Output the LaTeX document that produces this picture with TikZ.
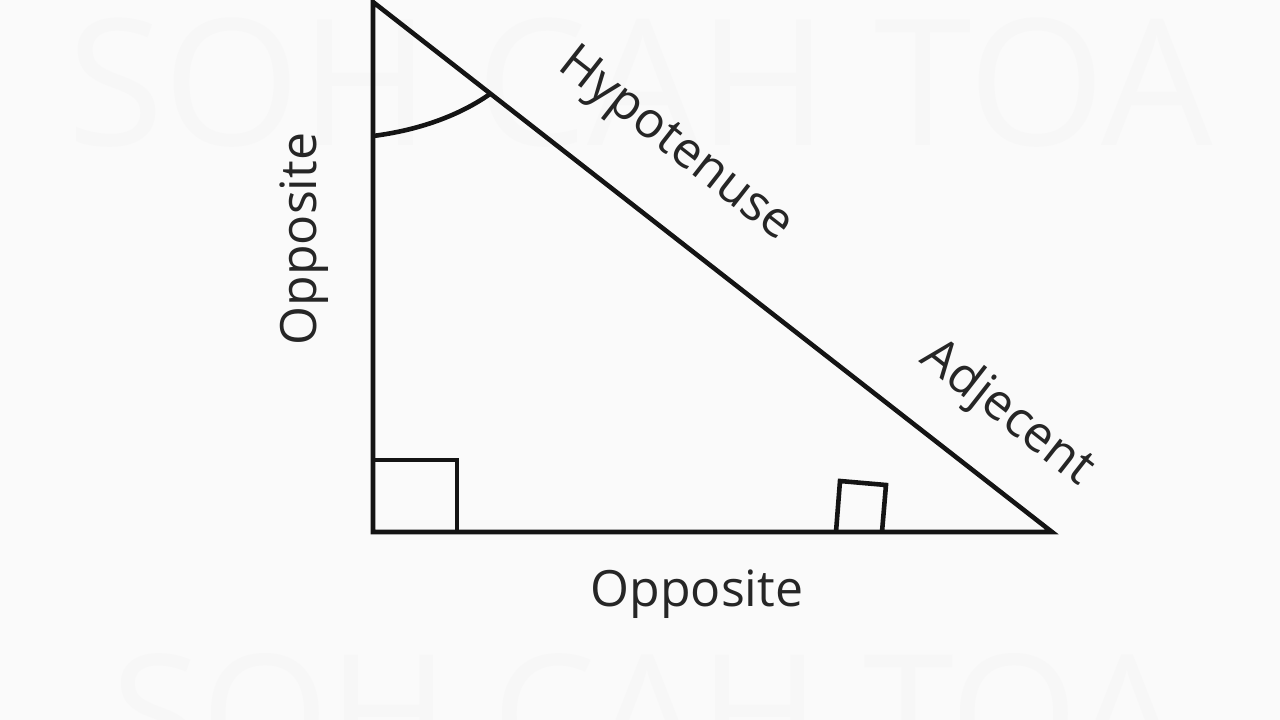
\documentclass[tikz,border=0pt]{standalone}
\usepackage{fontspec}
\setmainfont{Open Sans}
\begin{document}
\begin{tikzpicture}[x=1pt,y=-1pt,
  edge/.style={line width=4.6pt,line join=miter,black!92},
  lab/.style={font=\fontsize{50}{58}\selectfont,text=black!85,inner sep=0pt},
  ghost/.style={text=black!3,inner sep=0pt,anchor=base}]
\fill[black!2] (0,0) rectangle (1280,720);
\useasboundingbox (0,0) rectangle (1280,720);
% watermark
\node[ghost,font=\fontsize{176}{180}\selectfont] (wm1) at (640,145) {SOH CAH TOA};
\node[ghost,font=\fontsize{164}{170}\selectfont] (wm2) at (645,772) {SOH CAH TOA};
% triangle
\coordinate (T) at (373,2);
\coordinate (BL) at (373,532);
\coordinate (BR) at (1052,532);
\draw[edge] (T) -- (BL) -- (BR) -- cycle;
% angle arc
\coordinate (a1) at (373,136);
\coordinate (a2) at (490,94);
\draw[edge] (a1) .. controls (420,130) and (460,115) .. (a2);
% right angle
\draw[edge] (373,460) -- (457,460) -- (457,532);
% small box
\draw[edge] (836,532) -- (840,481) -- (886,485) -- (882,532);
% labels
\node[lab,rotate=90] (opp1) at (304,239) {Opposite};
\node[lab] (opp2) at (697,594) {Opposite};
\node[lab,rotate=-38] (hyp) at (675,146) {Hypotenuse};
\node[lab,rotate=-38] (adj) at (1007,414) {Adjecent};
\end{tikzpicture}
\end{document}
